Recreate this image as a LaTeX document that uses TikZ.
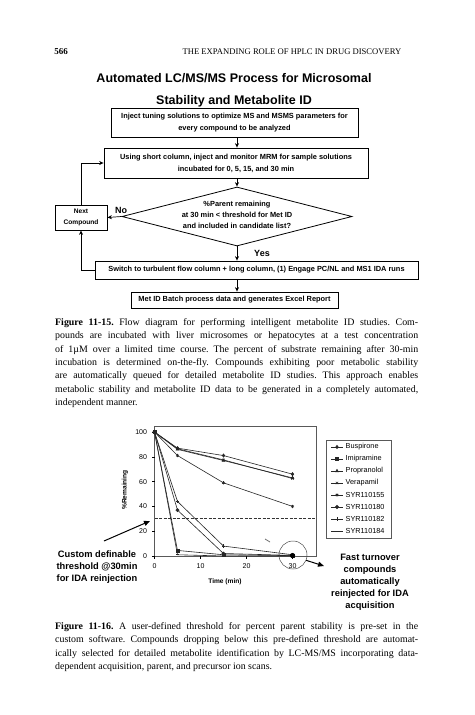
\documentclass[tikz,border=0pt]{standalone}
\usepackage{fontspec}
\setmainfont{Liberation Serif}
\newfontfamily\arialfont{Liberation Sans}
\usetikzlibrary{positioning,arrows.meta,shapes.geometric,plotmarks}
\frenchspacing

\tikzset{
  flowbox/.style={draw, line width=0.8pt, inner sep=0pt, align=center,
    font=\arialfont\bfseries\fontsize{7.4}{12}\selectfont},
  flowarrow/.style={-{Stealth[length=4.5pt,width=4pt]}, line width=0.7pt},
  series/.style={line width=0.6pt, black!85, mark size=1.6pt},
  callout/.style={font=\arialfont\bfseries\fontsize{9.3}{12}\selectfont, align=center},
  caption/.style={anchor=north west, inner sep=0pt, text width=363pt, align=justify,
    font=\fontsize{9.9}{13.3}\selectfont},
}

\begin{document}
\begin{tikzpicture}[x=1pt,y=-1pt]
\useasboundingbox (0,0) rectangle (474,715);
\fill[white] (0,0) rectangle (474,715);

% running head
\node[font=\bfseries\fontsize{9}{11}\selectfont] (pageno) at (61,52) {566};
\node[font=\fontsize{8.6}{11}\selectfont] (runhead) at (292,52) {THE EXPANDING ROLE OF HPLC IN DRUG DISCOVERY};

% flow diagram
\node[font=\arialfont\bfseries\fontsize{12.5}{22}\selectfont, align=center] (title) at (234,90)
  {Automated LC/MS/MS Process for Microsomal\\Stability and Metabolite ID};
\node[flowbox, minimum width=247pt, minimum height=29pt] (inject) at (234.5,122.5)
  {Inject tuning solutions to optimize MS and MSMS parameters for\\every compound to be analyzed};
\node[flowbox, minimum width=264pt, minimum height=30pt] (using) at (236,163)
  {Using short column, inject and monitor MRM for sample solutions\\incubated for 0, 5, 15, and 30 min};
\node[diamond, draw, line width=0.8pt, minimum width=230pt, minimum height=59pt, inner sep=0pt] (decide) at (237,216.5) {};
\node[font=\arialfont\bfseries\fontsize{7.4}{11}\selectfont, align=center] (decidetext) at (237,215)
  {\%Parent remaining\\at 30 min < threshold for Met ID\\and included in candidate list?};
\node[flowbox, minimum width=52pt, minimum height=25pt, font=\arialfont\bfseries\fontsize{6.6}{11}\selectfont] (next) at (81,217.5)
  {Next\\Compound};
\node[flowbox, minimum width=323pt, minimum height=18pt] (switch) at (256.5,270)
  {Switch to turbulent flow column + long column, (1) Engage PC/NL and MS1 IDA runs};
\node[flowbox, minimum width=207pt, minimum height=16pt] (report) at (234.5,300)
  {Met ID Batch process data and generates Excel Report};

\draw[flowarrow] (inject.south -| decide) -- (using.north -| decide);
\draw[flowarrow] (using.south -| decide) -- (decide.north);
\draw[flowarrow] (decide.south) -- (switch.north -| decide);
\draw[flowarrow] (decide.west) -- (next.east);
\draw[flowarrow] (next.north) |- (using.west);
\draw[flowarrow] (switch.west) -| (next.south);
\draw[flowarrow] (switch.south -| decide) -- (report.north -| decide);
\node[font=\arialfont\bfseries\fontsize{9}{11}\selectfont] (nolabel) at (121,210) {No};
\node[font=\arialfont\bfseries\fontsize{9}{11}\selectfont] (yeslabel) at (262,253) {Yes};

\node[caption] (caption1) at (55,318.5) {\textbf{Figure 11-15.} Flow diagram for performing intelligent metabolite ID studies. Com-\linebreak
pounds are incubated with liver microsomes or hepatocytes at a test concentration\linebreak
of 1µM over a limited time course. The percent of substrate remaining after 30-min\linebreak
incubation is determined on-the-fly. Compounds exhibiting poor metabolic stability\linebreak
are automatically queued for detailed metabolite ID studies. This approach enables\linebreak
metabolic stability and metabolite ID data to be generated in a completely automated,\linebreak
independent manner.};

% stability plot
\begin{scope}[shift={(154.5,556)}, x=4.6pt, y=1.24pt]
  \draw[line width=0.6pt, black!65] (0,0) rectangle (35.1,104.8);
  \foreach \v in {0,20,...,100} {
    \draw[line width=0.6pt] (0,\v) -- (-0.65,\v);
    \node[anchor=east, inner sep=0pt, font=\arialfont\fontsize{7}{8}\selectfont] (ytick\v) at (-1.6,\v) {\v};
  }
  \foreach \t in {0,10,20,30} {
    \draw[line width=0.6pt] (\t,0) -- (\t,-2.4);
    \node[inner sep=0pt, font=\arialfont\fontsize{7}{8}\selectfont] (xtick\t) at (\t,-8) {\t};
  }
  \draw[line width=1pt, black!80, dash pattern=on 3pt off 1.5pt] (0,30) -- (35.1,30);
  \draw[series] plot[mark=diamond*] coordinates {(0,100) (5,87) (15,81) (30,66)};
  \draw[series] plot[mark=square*] coordinates {(0,100) (5,4.5) (15,1) (30,0.3)};
  \draw[series] plot[mark=triangle*] coordinates {(0,100) (5,86) (15,77) (30,63)};
  \draw[series] plot[mark=x] coordinates {(0,100) (5,86.5) (15,77.5) (30,62.5)};
  \draw[series] plot[mark=asterisk] coordinates {(0,100) (5,81) (15,59) (30,40)};
  \draw[series] plot[mark=*] coordinates {(0,100) (5,37) (15,2) (30,0.5)};
  \draw[series] plot[mark=+] coordinates {(0,100) (5,44) (15,8) (30,1)};
  \draw[series] plot[mark=-] coordinates {(0,100) (5,1) (15,0) (30,0)};
\end{scope}
\fill[black] (292.5,555.5) circle (2.6pt);
\node[font=\arialfont\bfseries\fontsize{6.6}{8}\selectfont, rotate=90] (ylabel) at (125,490) {\%Remaining};
\node[font=\arialfont\bfseries\fontsize{6.6}{8}\selectfont] (xlabel) at (225,582) {Time (min)};

% legend
\draw[line width=0.6pt, black!65] (326,440) rectangle (391,538);
\foreach \name/\mk [count=\i] in {Buspirone/diamond*, Imipramine/square*, Propranolol/triangle*, Verapamil/x,
    SYR110155/asterisk, SYR110180/*, SYR110182/+, SYR110184/-} {
  \pgfmathsetmacro\ly{435+12*\i}
  \draw[series] (331,\ly) -- (343,\ly);
  \draw[series] plot[mark=\mk] coordinates {(337,\ly)};
  \node[anchor=west, inner sep=0pt, font=\arialfont\fontsize{7.3}{8}\selectfont] (legend\i) at (345.5,\ly) {\name};
}

% call-outs
\node[callout] (custom) at (97,567) {Custom definable\\threshold @30min\\for IDA reinjection};
\node[circle, draw, black!70, line width=0.5pt, minimum size=28pt, inner sep=0pt] (ring) at (293,555) {};
\node[callout] (fast) at (370,582) {Fast turnover\\compounds\\automatically\\reinjected for IDA\\acquisition};
\draw[black, line width=1pt, -{Triangle[length=6pt,width=5pt]}] (104,541) -- (150,521);
\draw[black, line width=1pt, -{Triangle[length=6pt,width=5pt]}] (ring.-22) -- (324,566);
\draw[black!55, line width=0.8pt] (265,539) -- (270,542);

\node[caption] (caption2) at (55,622.5) {\textbf{Figure 11-16.} A user-defined threshold for percent parent stability is pre-set in the\linebreak
custom software. Compounds dropping below this pre-defined threshold are automat-\linebreak
ically selected for detailed metabolite identification by LC-MS/MS incorporating data-\linebreak
dependent acquisition, parent, and precursor ion scans.};
\end{tikzpicture}
\end{document}
